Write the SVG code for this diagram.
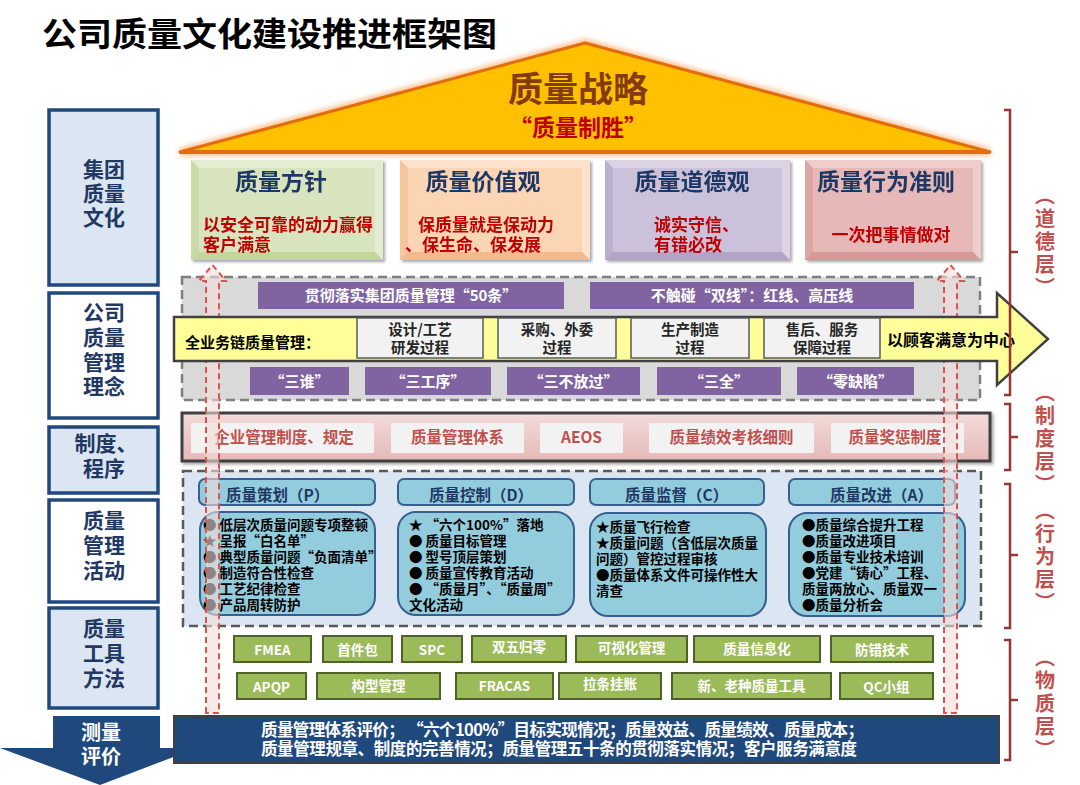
<svg xmlns="http://www.w3.org/2000/svg" width="1080" height="785" viewBox="0 0 1080 785">
<defs>
<style>
text{font-family:"Noto Sans CJK SC","Microsoft YaHei",sans-serif;font-weight:700;}
.lc{fill:#1F3864;font-size:21px;text-anchor:middle}
.lbox{stroke:#1F497D;stroke-width:3.5}
.lb1{fill:#DCE6F2}
.lb2{fill:#FFFFFF}
.ct{fill:#1F3864;font-size:23px;text-anchor:middle}
.cr{fill:#C00000;font-size:17px}
.pur{fill:#8064A2}
.pt{fill:#FFFFFF;font-size:15px;text-anchor:middle}
.proc{fill:#F2F2F2;stroke:#595959;stroke-width:1.5}
.prt{fill:#262626;font-size:14.5px;text-anchor:middle}
.inst{fill:#F2F2F2}
.it{fill:#C0504D;font-size:15.5px;text-anchor:middle}
.hdr{fill:#93CDDD;stroke:#376092;stroke-width:2}
.ht{fill:#1F3864;font-size:15.5px}
.cb{fill:#93CDDD;stroke:#376092;stroke-width:2}
.bt{fill:#000000;font-size:13.5px}
.tool{fill:#9BBB59;stroke:#4F6228;stroke-width:2}
.tt{fill:#FFFFFF;font-size:13.5px;text-anchor:middle}
.br{fill:none;stroke:#953735;stroke-width:2.5}
.lt{fill:#C0504D;font-size:20px;text-anchor:middle;writing-mode:vertical-rl;letter-spacing:3px}
.pole{fill:#F2DCDB;fill-opacity:0.6;stroke:#D9534F;stroke-width:2;stroke-dasharray:6 4}
.dash{stroke-width:2.5;stroke-dasharray:9 5}
</style>
<filter id="sh" x="-5%" y="-5%" width="115%" height="125%"><feDropShadow dx="2" dy="2" stdDeviation="1.5" flood-color="#000000" flood-opacity="0.35"/></filter>
<filter id="glow" x="-5%" y="-20%" width="110%" height="140%"><feGaussianBlur stdDeviation="2.5"/></filter>
<linearGradient id="instg" x1="0" y1="0" x2="0" y2="1"><stop offset="0" stop-color="#F2DCDB"/><stop offset="1" stop-color="#E6B9B8"/></linearGradient>
</defs>

<g id="title"><text x="42" y="46" font-size="33" fill="#000000" textLength="455" lengthAdjust="spacingAndGlyphs">公司质量文化建设推进框架图</text></g>

<g id="roof">
<polygon points="180,152 585,43 990,152" fill="none" stroke="#FAC090" stroke-width="8" filter="url(#glow)"/>
<polygon points="180,152 585,43 990,152" fill="#FFC000" stroke="#E46C0A" stroke-width="3" stroke-linejoin="round"/>
<line x1="180" y1="152" x2="990" y2="152" stroke="#E46C0A" stroke-width="4"/>
<text x="578" y="102" font-size="35" fill="#843C0C" text-anchor="middle">质量战略</text>
<text x="578" y="136" font-size="23" fill="#C00000" text-anchor="middle">“质量制胜”</text>
</g>

<g id="left-labels">
<g id="lbl-culture"><rect class="lbox lb1" x="49" y="110" width="109" height="175"/><text class="lc" x="104" y="177">集团<tspan x="104" dy="24">质量</tspan><tspan x="104" dy="24">文化</tspan></text></g>
<g id="lbl-concept"><rect class="lbox lb2" x="49" y="293" width="109" height="125"/><text class="lc" x="104" y="320">公司<tspan x="104" dy="25">质量</tspan><tspan x="104" dy="25">管理</tspan><tspan x="104" dy="24">理念</tspan></text></g>
<g id="lbl-system"><rect class="lbox lb1" x="49" y="427" width="109" height="66"/><text class="lc" x="106" y="451">制度、<tspan x="104" dy="25">程序</tspan></text></g>
<g id="lbl-activity"><rect class="lbox lb2" x="49" y="500" width="109" height="102"/><text class="lc" x="104" y="528">质量<tspan x="104" dy="25">管理</tspan><tspan x="104" dy="25">活动</tspan></text></g>
<g id="lbl-tools"><rect class="lbox lb1" x="49" y="608" width="109" height="100"/><text class="lc" x="104" y="636">质量<tspan x="104" dy="25">工具</tspan><tspan x="104" dy="25">方法</tspan></text></g>
<g id="lbl-measure"><polygon points="53,716 160,716 160,748 197,748 100,785 0,748 53,748" fill="#1F497D"/><text x="101" y="740" font-size="20" fill="#FFFFFF" text-anchor="middle">测量<tspan x="101" dy="24">评价</tspan></text></g>
</g>

<g id="culture">
<g id="c-policy" filter="url(#sh)">
<rect x="191" y="160" width="192" height="100" fill="#D7E4BD"/>
<polygon points="191,160 383,160 375,168 199,168" fill="#E4EDD2"/>
<polygon points="191,160 199,168 199,252 191,260" fill="#C9DAA8"/>
<polygon points="383,160 375,168 375,252 383,260" fill="#E4EDD2"/>
<polygon points="191,260 199,252 375,252 383,260" fill="#C3D69B"/>
<text class="ct" x="281" y="190">质量方针</text>
<text class="cr" x="203" y="231">以安全可靠的动力赢得<tspan x="203" dy="20">客户满意</tspan></text>
</g>
<g id="c-value" filter="url(#sh)">
<rect x="400" y="160" width="190" height="100" fill="#FCD5B5"/>
<polygon points="400,160 590,160 582,168 408,168" fill="#FDE3CE"/>
<polygon points="400,160 408,168 408,252 400,260" fill="#F7C59C"/>
<polygon points="590,160 582,168 582,252 590,260" fill="#FDE3CE"/>
<polygon points="400,260 408,252 582,252 590,260" fill="#F4BA8B"/>
<text class="ct" x="483" y="190">质量价值观</text>
<text class="cr" x="418" y="231">保质量就是保动力<tspan x="405" dy="20">、保生命、保发展</tspan></text>
</g>
<g id="c-ethic" filter="url(#sh)">
<rect x="605" y="160" width="185" height="100" fill="#CCC1DA"/>
<polygon points="605,160 790,160 782,168 613,168" fill="#DCD4E5"/>
<polygon points="605,160 613,168 613,252 605,260" fill="#BDB0CE"/>
<polygon points="790,160 782,168 782,252 790,260" fill="#DCD4E5"/>
<polygon points="605,260 613,252 782,252 790,260" fill="#B3A4C7"/>
<text class="ct" x="692" y="190">质量道德观</text>
<text class="cr" x="654" y="231">诚实守信、<tspan x="654" dy="20">有错必改</tspan></text>
</g>
<g id="c-conduct" filter="url(#sh)">
<rect x="805" y="160" width="176" height="100" fill="#E6B9B8"/>
<polygon points="805,160 981,160 973,168 813,168" fill="#EFCDCC"/>
<polygon points="805,160 813,168 813,252 805,260" fill="#DCA6A5"/>
<polygon points="981,160 973,168 973,252 981,260" fill="#EFCDCC"/>
<polygon points="805,260 813,252 973,252 981,260" fill="#D69998"/>
<text class="ct" x="886" y="190">质量行为准则</text>
<text class="cr" x="891" y="241" text-anchor="middle">一次把事情做对</text>
</g>
</g>

<g id="concept">
<rect x="182" y="277" width="798" height="123" fill="#D9D9D9" stroke="#7F7F7F" class="dash"/>
<g id="p-50"><rect class="pur" x="258" y="282" width="306" height="27"/><text class="pt" x="411" y="301">贯彻落实集团质量管理“50条”</text></g>
<g id="p-double"><rect class="pur" x="590" y="282" width="324" height="27"/><text class="pt" x="752" y="301">不触碰“双线”：红线、高压线</text></g>
<g id="p-sanshui"><rect class="pur" x="250" y="367" width="99" height="28"/><text class="pt" x="299.5" y="387">“三谁”</text></g>
<g id="p-sangongxu"><rect class="pur" x="365" y="367" width="126" height="28"/><text class="pt" x="428" y="387">“三工序”</text></g>
<g id="p-sanbu"><rect class="pur" x="507" y="367" width="133" height="28"/><text class="pt" x="573.5" y="387">“三不放过”</text></g>
<g id="p-sanquan"><rect class="pur" x="657" y="367" width="124" height="28"/><text class="pt" x="719" y="387">“三全”</text></g>
<g id="p-zero"><rect class="pur" x="797" y="367" width="117" height="28"/><text class="pt" x="855.5" y="387">“零缺陷”</text></g>
</g>

<g id="system">
<rect x="182" y="413" width="808" height="48" fill="url(#instg)" stroke="#404040" stroke-width="3" filter="url(#sh)"/>
<g id="s-1"><rect class="inst" x="191" y="423" width="183" height="30"/><text class="it" x="284" y="443">企业管理制度、规定</text></g>
<g id="s-2"><rect class="inst" x="391" y="423" width="133" height="30"/><text class="it" x="457.5" y="443">质量管理体系</text></g>
<g id="s-3"><rect class="inst" x="540" y="423" width="83" height="30"/><text class="it" x="581.5" y="443">AEOS</text></g>
<g id="s-4"><rect class="inst" x="649" y="423" width="165" height="30"/><text class="it" x="731.5" y="443">质量绩效考核细则</text></g>
<g id="s-5"><rect class="inst" x="831" y="423" width="133" height="30"/><text class="it" x="895" y="443">质量奖惩制度</text></g>
</g>

<g id="activity">
<rect x="183" y="471" width="798" height="155" fill="#DCE6F2" stroke="#595959" class="dash"/>
<g id="a-plan">
<rect class="hdr" x="199" y="479" width="176" height="26" rx="6"/><text class="ht" x="226" y="501">质量策划（P）</text>
<rect class="cb" x="200" y="512" width="175" height="103" rx="18"/>
<text class="bt" x="203" y="530">● 低层次质量问题专项整顿<tspan x="203" dy="16">★ 呈报“白名单”</tspan><tspan x="203" dy="16">● 典型质量问题“负面清单”</tspan><tspan x="203" dy="16">● 制造符合性检查</tspan><tspan x="203" dy="16">● 工艺纪律检查</tspan><tspan x="203" dy="16">● 产品周转防护</tspan></text>
</g>
<g id="a-do">
<rect class="hdr" x="398" y="479" width="176" height="26" rx="6"/><text class="ht" x="429" y="501">质量控制（D）</text>
<rect class="cb" x="398" y="512" width="176" height="103" rx="18"/>
<text class="bt" x="409" y="530">★ “六个100%”落地<tspan x="409" dy="16">● 质量目标管理</tspan><tspan x="409" dy="16">● 型号顶层策划</tspan><tspan x="409" dy="16">● 质量宣传教育活动</tspan><tspan x="409" dy="16">● “质量月”、“质量周”</tspan><tspan x="409" dy="16">文化活动</tspan></text>
</g>
<g id="a-check">
<rect class="hdr" x="590" y="479" width="174" height="26" rx="6"/><text class="ht" x="625" y="501">质量监督（C）</text>
<rect class="cb" x="590" y="513" width="176" height="103" rx="18"/>
<text class="bt" x="596" y="532">★质量飞行检查<tspan x="596" dy="16">★质量问题（含低层次质量</tspan><tspan x="596" dy="16">问题）管控过程审核</tspan><tspan x="596" dy="16">●质量体系文件可操作性大</tspan><tspan x="596" dy="16">清查</tspan></text>
</g>
<g id="a-act">
<rect class="hdr" x="789" y="479" width="166" height="26" rx="6"/><text class="ht" x="830" y="501">质量改进（A）</text>
<rect class="cb" x="789" y="513" width="176" height="103" rx="18"/>
<text class="bt" x="802" y="530">●质量综合提升工程<tspan x="802" dy="16">●质量改进项目</tspan><tspan x="802" dy="16">●质量专业技术培训</tspan><tspan x="802" dy="16">●党建“铸心”工程、</tspan><tspan x="802" dy="16">质量两放心、质量双一</tspan><tspan x="802" dy="16">●质量分析会</tspan></text>
</g>
</g>

<g id="tools">
<g id="t-fmea"><rect class="tool" x="234" y="636" width="77" height="26"/><text class="tt" x="272.5" y="655">FMEA</text></g>
<g id="t-first"><rect class="tool" x="323" y="636" width="69" height="26"/><text class="tt" x="357.5" y="655">首件包</text></g>
<g id="t-spc"><rect class="tool" x="402" y="636" width="60" height="26"/><text class="tt" x="432" y="655">SPC</text></g>
<g id="t-sgl"><rect class="tool" x="472" y="636" width="94" height="26"/><text class="tt" x="519" y="652">双五归零</text></g>
<g id="t-vis"><rect class="tool" x="576" y="636" width="111" height="26"/><text class="tt" x="631.5" y="653">可视化管理</text></g>
<g id="t-info"><rect class="tool" x="694" y="636" width="126" height="26"/><text class="tt" x="757" y="654">质量信息化</text></g>
<g id="t-err"><rect class="tool" x="831" y="636" width="102" height="26"/><text class="tt" x="882" y="655">防错技术</text></g>
<g id="t-apqp"><rect class="tool" x="237" y="673" width="69" height="26"/><text class="tt" x="271.5" y="692">APQP</text></g>
<g id="t-config"><rect class="tool" x="317" y="673" width="123" height="26"/><text class="tt" x="378.5" y="691">构型管理</text></g>
<g id="t-fracas"><rect class="tool" x="456" y="673" width="97" height="26"/><text class="tt" x="504.5" y="691">FRACAS</text></g>
<g id="t-pull"><rect class="tool" x="559" y="673" width="102" height="26"/><text class="tt" x="610" y="689">拉条挂账</text></g>
<g id="t-new"><rect class="tool" x="672" y="673" width="159" height="26"/><text class="tt" x="751.5" y="691">新、老种质量工具</text></g>
<g id="t-qc"><rect class="tool" x="840" y="673" width="93" height="26"/><text class="tt" x="886.5" y="692">QC小组</text></g>
</g>

<g id="measure">
<rect x="174" y="716" width="825" height="47" fill="#1F497D" stroke="#404040" stroke-width="2"/>
<text font-size="16.5" fill="#FFFFFF"><tspan x="261" y="736" textLength="603" lengthAdjust="spacing">质量管理体系评价；  “六个100%”目标实现情况；质量效益、质量绩效、质量成本；</tspan><tspan x="261" y="755" textLength="596" lengthAdjust="spacing">质量管理规章、制度的完善情况；质量管理五十条的贯彻落实情况；客户服务满意度</tspan></text>
</g>

<g id="connectors">
<path class="pole" d="M206,713 L206,281 L199,281 L212.5,265 L226,281 L219,281 L219,713 Z"/>
<path class="pole" d="M944,713 L944,281 L937,281 L950.5,265 L964,281 L957,281 L957,713 Z"/>
</g>

<g id="chain">
<path d="M174,317 L997,317 L997,293 L1048,339 L997,385 L997,361 L174,361 Z" fill="#FFFF99" stroke="#404040" stroke-width="2.5" stroke-linejoin="miter"/>
<text x="185" y="348" font-size="15" fill="#000000">全业务链质量管理：</text>
<g id="pr-1"><rect class="proc" x="357" y="318" width="126" height="40"/><text class="prt" x="420" y="335">设计/工艺<tspan x="420" dy="18">研发过程</tspan></text></g>
<g id="pr-2"><rect class="proc" x="498" y="318" width="118" height="40"/><text class="prt" x="557" y="335">采购、外委<tspan x="557" dy="18">过程</tspan></text></g>
<g id="pr-3"><rect class="proc" x="631" y="318" width="118" height="40"/><text class="prt" x="690" y="335">生产制造<tspan x="690" dy="18">过程</tspan></text></g>
<g id="pr-4"><rect class="proc" x="764" y="318" width="116" height="40"/><text class="prt" x="822" y="335">售后、服务<tspan x="822" dy="18">保障过程</tspan></text></g>
<text x="887" y="346" font-size="16" fill="#000000">以顾客满意为中心</text>
</g>

<g id="layers">
<g id="ly-moral"><path class="br" d="M1004,110 L1010,110 L1010,395 L1004,395 M1010,252 L1018,252"/><text class="lt" x="1045" y="243">（道德层）</text></g>
<g id="ly-system"><path class="br" d="M1004,404 L1010,404 L1010,470 L1004,470 M1010,437 L1018,437"/><text class="lt" x="1045" y="440">（制度层）</text></g>
<g id="ly-behave"><path class="br" d="M1004,484 L1010,484 L1010,628 L1004,628 M1010,555 L1018,555"/><text class="lt" x="1045" y="558">（行为层）</text></g>
<g id="ly-material"><path class="br" d="M1004,640 L1010,640 L1010,760 L1004,760 M1010,700 L1018,700"/><text class="lt" x="1045" y="705">（物质层）</text></g>
</g>
</svg>
